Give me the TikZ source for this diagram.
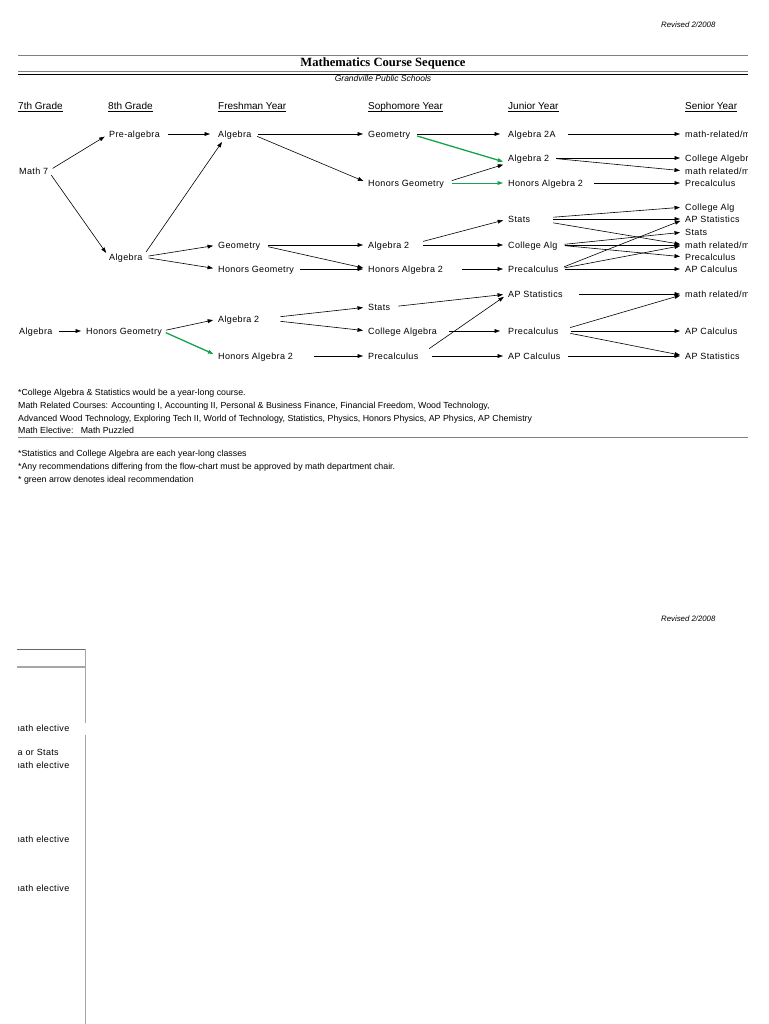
\documentclass[tikz,border=0pt]{standalone}
\usepackage{graphicx,xcolor}
\usepackage{fontspec}
\setmainfont{Liberation Sans}
\newfontfamily\serifbold{Liberation Serif}
\newfontfamily\coursefont{Liberation Sans}[LetterSpace=4]
\usepackage{tikz}
\usetikzlibrary{arrows.meta}

\definecolor{rulegray}{RGB}{128,128,128}
\definecolor{idealgreen}{RGB}{20,165,75}

\tikzset{
    course/.style={anchor=west, inner sep=0pt, text height=8pt, text depth=1.8pt, font=\coursefont\fontsize{9}{10}\selectfont},
    grade/.style={anchor=base west, inner sep=0pt, font=\fontsize{10}{12}\selectfont},
    note/.style={anchor=base west, inner sep=0pt, font=\fontsize{8.8}{11}\selectfont},
    flow/.style={-{Triangle[length=5.5pt,width=3.8pt]}, line width=.6pt, shorten <=6pt, shorten >=5pt},
    ideal/.style={flow, draw=idealgreen, line width=1.3pt},
}

\begin{document}
\begin{tikzpicture}[x=1pt,y=-1pt]
    \useasboundingbox[fill=white] (0,0) rectangle (768,1024);

    \node[anchor=west, inner sep=0pt, font=\fontsize{7.8}{9}\selectfont\itshape] (rev) at (661,25) {Revised 2/2008};
    \draw[rulegray, line width=.9pt] (18,55) -- (748,55);
    \node[inner sep=0pt, font=\serifbold\bfseries\fontsize{12.6}{14}\selectfont] (title) at (383,63) {Mathematics Course Sequence};
    \draw[rulegray, line width=1pt] (18,71.5) -- (748,71.5);
    \draw[line width=1pt] (18,74.3) -- (748,74.3);
    \node[inner sep=0pt, font=\fontsize{8.5}{9}\selectfont\itshape] (school) at (383,78.5) {Grandville Public Schools};

    \node[grade] (g7) at (18,109.5) {7th Grade};
    \node[grade] (g8) at (108,109.5) {8th Grade};
    \node[grade] (fy) at (218,109.5) {Freshman Year};
    \node[grade] (soy) at (368,109.5) {Sophomore Year};
    \node[grade] (jy) at (508,109.5) {Junior Year};
    \node[grade] (sy) at (685,109.5) {Senior Year};
    \foreach \h in {g7,g8,fy,soy,jy,sy}
        \draw[line width=.8pt] ([yshift=-1.8pt]\h.base west) -- ([yshift=-1.8pt]\h.base east);

    \node[course] (m7) at (19,171) {Math 7};
    \node[course] (prealg) at (109,134) {Pre-algebra};
    \node[course] (alga) at (109,257) {Algebra};
    \node[course] (algf) at (218,134) {Algebra};
    \node[course] (geof) at (218,245) {Geometry};
    \node[course] (hgeof) at (218,269) {Honors Geometry};
    \node[course] (geos) at (368,134) {Geometry};
    \node[course] (hgeos) at (368,183) {Honors Geometry};
    \node[course] (algtwos) at (368,245) {Algebra 2};
    \node[course] (halgs) at (368,269) {Honors Algebra 2};
    \node[course] (algtwoa) at (508,134) {Algebra 2A};
    \node[course] (algtwoj) at (508,158) {Algebra 2};
    \node[course] (halgj) at (508,183) {Honors Algebra 2};
    \node[course] (statsj) at (508,219) {Stats};
    \node[course] (colj) at (508,245) {College Alg};
    \node[course] (prej) at (508,269) {Precalculus};

    \node[course] (algb) at (19,331) {Algebra};
    \node[course] (hgeob) at (86,331) {Honors Geometry};
    \node[course] (algtwob) at (218,319) {Algebra 2};
    \node[course] (halgb) at (218,356) {Honors Algebra 2};
    \node[course] (statsb) at (368,307) {Stats};
    \node[course] (colb) at (368,331) {College Algebra};
    \node[course] (preb) at (368,356) {Precalculus};
    \node[course] (apstatb) at (508,294) {AP Statistics};
    \node[course] (prejb) at (508,331) {Precalculus};
    \node[course] (apcalcb) at (508,356) {AP Calculus};

    \begin{scope}
        \clip (0,0) rectangle (747.5,1024);
        \node[course] (s1) at (685,134) {math-related/m};
        \node[course] (s2) at (685,158) {College Algebr};
        \node[course] (s3) at (685,171) {math related/m};
        \node[course] (s4) at (685,183) {Precalculus};
        \node[course] (s5) at (685,207) {College Alg};
        \node[course] (s6) at (685,219) {AP Statistics};
        \node[course] (s7) at (685,232) {Stats};
        \node[course] (s8) at (685,245) {math related/m};
        \node[course] (s9) at (685,257) {Precalculus};
        \node[course] (s10) at (685,269) {AP Calculus};
        \node[course] (s11) at (685,294) {math related/m};
        \node[course] (s12) at (685,331) {AP Calculus};
        \node[course] (s13) at (685,356) {AP Statistics};
    \end{scope}

    \draw[flow, shorten <=5pt] (m7.east) -- (prealg.west);
    \draw[flow, shorten <=5pt] (m7.east) -- (alga.west);
    \draw[flow, shorten <=8pt, shorten >=8pt] (prealg.east) -- (algf.west);
    \draw[flow, shorten >=0pt] (alga.east) -- ([xshift=4pt,yshift=-8pt]algf.west);
    \draw[flow] (alga.east) -- (geof.west);
    \draw[flow] (alga.east) -- (hgeof.west);
    \draw[flow] (algf.east) -- (geos.west);
    \draw[flow] (algf.east) -- (hgeos.west);
    \draw[flow, shorten <=7pt, shorten >=8pt] (geos.east) -- (algtwoa.west);
    \draw[ideal, shorten <=7pt] (geos.east) -- (algtwoj.south west);
    \draw[flow, shorten <=8pt] (hgeos.east) -- (algtwoj.south west);
    \draw[ideal, line width=.8pt, shorten <=8pt] (hgeos.east) -- (halgj.west);
    \draw[flow, shorten <=12pt] (algtwoa.east) -- (s1.west);
    \draw[flow, shorten <=7pt] (algtwoj.east) -- (s2.west);
    \draw[flow, shorten <=7pt] (algtwoj.east) -- (s3.west);
    \draw[flow, shorten <=11pt] (halgj.east) -- (s4.west);

    \draw[flow, shorten <=8pt] (geof.east) -- (algtwos.west);
    \draw[flow, shorten <=8pt] (geof.east) -- (halgs.west);
    \draw[flow] (hgeof.east) -- (halgs.west);
    \draw[flow, shorten <=14pt] (algtwos.east) -- (statsj.west);
    \draw[flow, shorten <=14pt] (algtwos.east) -- (colj.west);
    \draw[flow, shorten <=19pt] (halgs.east) -- (prej.west);
    \draw[flow, shorten <=23pt] (statsj.east) -- (s5.west);
    \draw[flow, shorten <=23pt] (statsj.east) -- (s6.west);
    \draw[flow, shorten <=23pt] (statsj.east) -- (s8.west);
    \draw[flow, shorten <=7pt] (colj.east) -- (s7.west);
    \draw[flow, shorten <=7pt] (colj.east) -- (s8.west);
    \draw[flow, shorten <=7pt] (colj.east) -- (s9.west);
    \draw[flow, shorten <=6pt] (prej.east) -- (s6.west);
    \draw[flow, shorten <=6pt] (prej.east) -- (s8.west);
    \draw[flow, shorten <=6pt] (prej.east) -- (s10.west);

    \draw[flow] (algb.east) -- (hgeob.west);
    \draw[flow, shorten <=4pt] (hgeob.east) -- (algtwob.west);
    \draw[ideal, shorten <=4pt] (hgeob.east) -- (halgb.west);
    \draw[flow, shorten <=21pt] (algtwob.east) -- (statsb.west);
    \draw[flow, shorten <=21pt] (algtwob.east) -- (colb.west);
    \draw[flow, shorten <=21pt] (halgb.east) -- (preb.west);
    \draw[flow, shorten <=8pt] (statsb.east) -- (apstatb.west);
    \draw[flow, shorten <=12pt, shorten >=8pt] (colb.east) -- (prejb.west);
    \draw[flow, shorten <=13pt] (preb.east) -- (apstatb.west);
    \draw[flow, shorten <=13pt] (preb.east) -- (apcalcb.west);
    \draw[flow, shorten <=16pt] (apstatb.east) -- (s11.west);
    \draw[flow, shorten <=12pt] (prejb.east) -- (s11.west);
    \draw[flow, shorten <=12pt] (prejb.east) -- (s12.west);
    \draw[flow, shorten <=12pt] (prejb.east) -- (s13.west);
    \draw[flow, shorten <=7pt] (apcalcb.east) -- (s13.west);

    \node[note] (n1) at (18,395) {*College Algebra \& Statistics would be a year-long course.};
    \node[note] (n2) at (18,408) {Math Related Courses: Accounting I, Accounting II, Personal \& Business Finance, Financial Freedom, Wood Technology,};
    \node[note] (n3) at (18,421) {Advanced Wood Technology, Exploring Tech II, World of Technology, Statistics, Physics, Honors Physics, AP Physics, AP Chemistry};
    \node[note] (n4) at (18,433) {Math Elective:\ \ \ Math Puzzled};
    \draw[rulegray, line width=.9pt] (18,437) -- (748,437);
    \node[note] (n5) at (18,456) {*Statistics and College Algebra are each year-long classes};
    \node[note] (n6) at (18,469) {*Any recommendations differing from the flow-chart must be approved by math department chair.};
    \node[note] (n7) at (18,482) {* green arrow denotes ideal recommendation};

    \node[anchor=west, inner sep=0pt, font=\fontsize{7.8}{9}\selectfont\itshape] (rev2) at (661,619) {Revised 2/2008};
    \draw[rulegray!80!black, line width=.9pt] (17,649) -- (85,649);
    \draw[rulegray!70, line width=1.6pt] (17,667) -- (85,667);
    \draw[rulegray!70, line width=1pt] (85,649) -- (85,722.5);
    \draw[rulegray!70, line width=1pt] (85,735) -- (85,1024);
    \begin{scope}
        \clip (18.5,0) rectangle (768,1024);
        \node[course, anchor=east] (e1) at (69.5,728) {math elective};
        \node[course] (e2) at (17.5,752) {a or Stats};
        \node[course, anchor=east] (e3) at (69.5,765) {math elective};
        \node[course, anchor=east] (e4) at (69.5,839) {math elective};
        \node[course, anchor=east] (e5) at (69.5,888) {math elective};
    \end{scope}
\end{tikzpicture}
\end{document}
